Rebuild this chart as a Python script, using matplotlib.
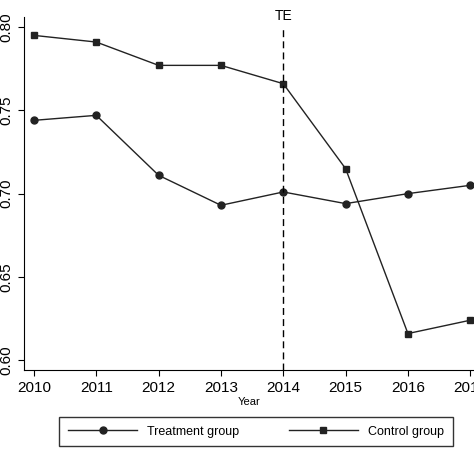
import matplotlib
matplotlib.use("Agg")
import matplotlib.pyplot as plt

years = [2010, 2011, 2012, 2013, 2014, 2015, 2016, 2017]
treatment = [0.744, 0.747, 0.711, 0.693, 0.701, 0.694, 0.700, 0.705]
control = [0.795, 0.791, 0.777, 0.777, 0.766, 0.715, 0.616, 0.624]
yticks = [0.60, 0.65, 0.70, 0.75, 0.80]

plt.rcParams['font.family'] = ['Liberation Sans', 'DejaVu Sans']
fig = plt.figure(figsize=(4.74, 4.74), dpi=100)
ax = fig.add_axes([0.0506, 0.219, 0.9494, 0.745])

ax.plot(years, treatment, color='#222222', lw=1, marker='o', ms=5, label='Treatment group')
ax.plot(years, control, color='#222222', lw=1, marker='s', ms=5, label='Control group')
ax.vlines(2014, 0.594, 0.80, color='black', lw=1, ls=(0, (5, 3)))
ax.text(2014, 0.8025, 'TE', ha='center', va='bottom', fontsize=10)

ax.set_xlim(2009.84, 2017.06)
ax.set_ylim(0.594, 0.806)
ax.set_xticks(years)
ax.set_yticks(yticks)
ax.set_yticklabels(['%.2f' % v for v in yticks], rotation=90, va='center')
ax.tick_params(labelsize=11, direction='out', length=4)
ax.set_xlabel('Year', fontsize=8, labelpad=2)
for s in ['top', 'right']:
    ax.spines[s].set_visible(False)

fig.legend(loc='lower center', bbox_to_anchor=(0.54, 0.045), ncol=2, frameon=True,
           fancybox=False, edgecolor='black', fontsize=9, handlelength=5.5,
           columnspacing=4, borderpad=0.7)
fig.savefig('out.png', dpi=100)
